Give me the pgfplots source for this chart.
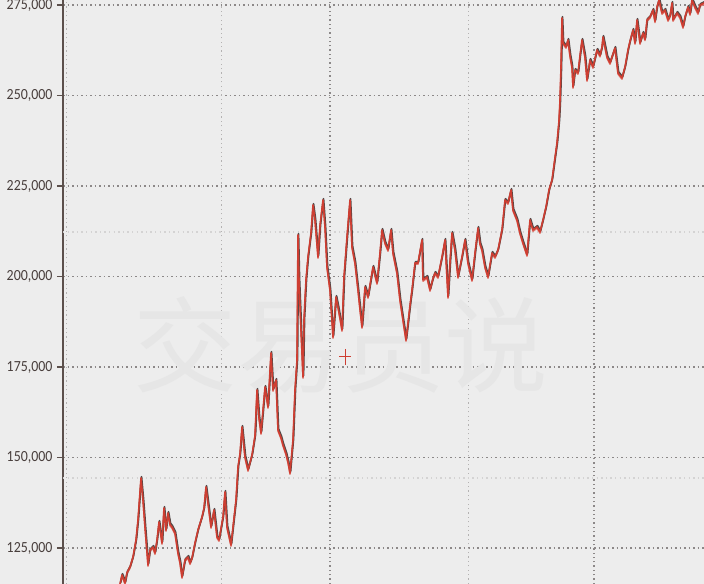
\documentclass[border=0pt]{standalone}
\usepackage{pgfplots}
\pgfplotsset{compat=1.18}
\usepackage{fontspec}
\setmainfont[FakeStretch=0.9]{Carlito}
\newfontfamily\cjk{Noto Sans CJK SC}
\definecolor{bg}{RGB}{237,237,237}
\definecolor{txt}{RGB}{72,62,60}
\definecolor{axcol}{RGB}{92,80,76}
\definecolor{gridd}{RGB}{140,136,136}
\definecolor{gridl}{RGB}{180,178,178}
\definecolor{gridf}{RGB}{212,211,211}
\definecolor{redl}{RGB}{206,62,50}
\definecolor{pinkl}{RGB}{225,120,110}
\definecolor{darkl}{RGB}{82,72,70}
\definecolor{wm}{RGB}{230,230,230}
\begin{document}
\begin{tikzpicture}
\fill[bg] (-63bp,0) rectangle (641bp,584bp);
\clip (-63bp,0) rectangle (641bp,584bp);
\begin{axis}[
  at={(0,0)}, anchor=south west,
  scale only axis, width=641bp, height=584bp,
  xmin=63, xmax=704, ymin=115055, ymax=276381,
  axis lines*=left,
  x axis line style={draw=none},
  y axis line style={draw=axcol, line width=1.3bp, -},
  xtick={330,594}, xticklabels={},
  x tick style={draw=none},
  ytick={125000,150000,175000,200000,225000,250000,275000},
  ytick align=outside, major tick length=6bp,
  y tick style={draw=axcol, line width=1.1bp},
  xmajorgrids, ymajorgrids,
  x grid style={draw=gridd, line width=1.1bp, dash pattern=on 1.3bp off 3bp},
  y grid style={draw=gridd, line width=1.3bp, dash pattern=on 1.6bp off 2.9bp},
  scaled y ticks=false,
  yticklabel style={font=\fontsize{15.5}{16}\selectfont, text=txt, xshift=-1bp},
  /pgf/number format/assume math mode=true,
  /pgf/number format/.cd, 1000 sep={,}, fixed,
  /pgfplots/.cd,
  clip=true,
]
\draw[gridl, line width=1bp, dash pattern=on 1.2bp off 3.2bp] (axis cs:66,115055) -- (axis cs:66,276381);
\draw[gridl, line width=1bp, dash pattern=on 1.2bp off 3.2bp] (axis cs:221,115055) -- (axis cs:221,276381);
\draw[gridl, line width=1bp, dash pattern=on 1.2bp off 3.2bp] (axis cs:468,115055) -- (axis cs:468,276381);
\draw[gridf, line width=1.1bp, dash pattern=on 1.4bp off 3.2bp] (axis cs:63,144338) -- (axis cs:704,144338);
\draw[gridf, line width=1.1bp, dash pattern=on 1.4bp off 3.2bp] (axis cs:63,212293) -- (axis cs:704,212293);
\node[text=wm, font=\cjk\fontsize{104}{110}\selectfont, inner sep=0] at (axis cs:341,181078) {交易员说};
\pgfplotstableread{
x y
120 115057
122 117543
125 115333
127 118200
130 119753
133 122515
136 127211
138 132736
141 144338
143 138261
145 130803
148 120305
150 124449
153 125278
155 123600
157 127211
159 132184
162 126383
164 136051
166 129974
168 134670
170 131500
172 130803
175 129145
178 123620
180 121000
182 116991
185 121687
188 122515
190 120800
192 122239
195 126383
198 129974
202 133565
204 136000
206 141852
208 137432
211 130803
214 135499
217 128040
219 127211
223 133565
225 140471
227 130803
231 125830
233 130803
236 138261
238 147377
240 151000
242 158427
245 150139
248 146548
252 150692
255 156000
257 168647
259 161000
261 156769
263 163000
265 169476
268 163951
271 178868
273 168647
276 171410
278 157598
281 155500
283 153454
286 151000
288 148758
290 145719
293 154835
295 168647
297 176935
298 211465
299 199034
301 185222
303 172239
304 187984
306 199034
308 205387
311 212017
313 219752
315 215608
318 205387
320 214000
323 221133
325 213675
327 202625
330 196271
333 183288
336 194338
338 191575
340 188500
342 185222
344 199863
347 210912
350 221133
352 208150
355 203730
358 196271
360 191000
362 186051
365 197100
368 194338
372 200967
373 202625
377 198205
380 206492
382 212846
385 209255
388 207321
391 212846
393 206492
397 200967
400 193509
403 187984
406 182459
408 187155
410 192000
412 196271
415 203730
418 203730
422 210083
423 199034
427 199863
430 196271
433 199500
435 200967
438 199863
442 205387
445 210083
448 194338
450 204000
452 212017
455 207321
458 199863
462 205387
465 210083
468 203730
472 199034
475 206492
478 213398
480 209000
482 207321
485 202625
488 199863
492 206492
495 205387
498 207321
502 212846
505 221133
508 220304
511 223895
513 218371
517 215608
520 212017
523 209255
527 205940
530 215608
533 212846
537 213675
540 212293
543 215608
546 219199
549 223895
552 226658
554 230801
557 236879
559 243000
560 248757
561 257873
562 271409
563 264503
566 263398
568 265331
570 261000
572 257873
573 252348
575 257044
578 256215
580 261000
582 265331
585 260635
587 254282
590 259807
593 257873
597 262569
600 261000
602 263398
603 266160
607 260635
610 258978
613 261500
615 263121
618 256215
622 254834
625 257873
628 262569
630 265000
633 268094
635 264500
637 270856
640 264503
643 267265
645 265500
647 270856
650 271685
653 273619
655 270500
657 274447
659 276381
662 272790
665 273619
668 270856
670 272000
672 275552
673 270856
677 272790
680 271685
683 268923
685 271685
688 274447
690 272500
692 276381
695 274447
698 272800
700 275000
704 275552
}\series
\addplot[pinkl, line width=1.4bp, line join=round, yshift=-1.3bp] table[x=x,y=y] {\series};
\addplot[darkl, line width=1.8bp, line join=round, yshift=1.2bp, xshift=0.5bp] table[x=x,y=y] {\series};
\addplot[redl, line width=1.6bp, line join=round] table[x=x,y=y] {\series};
\draw[redl, line width=1bp] (axis cs:345,180000) -- (axis cs:345,175600);
\draw[redl, line width=1bp] (axis cs:339,177800) -- (axis cs:351,177800);
\end{axis}
\end{tikzpicture}
\end{document}
